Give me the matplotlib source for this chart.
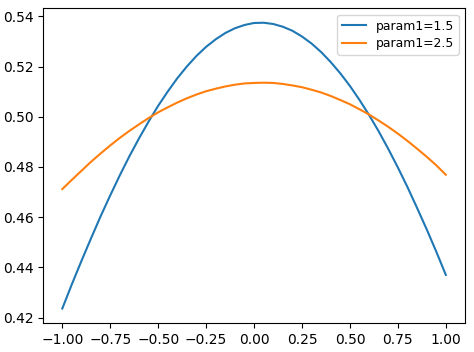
import matplotlib
matplotlib.use("Agg")
import matplotlib.pyplot as plt

# values
x = [-1.0, -0.95, -0.9, -0.85, -0.8, -0.75, -0.7, -0.65, -0.6, -0.55, -0.5,
     -0.45, -0.4, -0.35, -0.3, -0.25, -0.2, -0.15, -0.1, -0.05, 0.0,
     0.05, 0.1, 0.15, 0.2, 0.25, 0.3, 0.35, 0.4, 0.45, 0.5,
     0.55, 0.6, 0.65, 0.7, 0.75, 0.8, 0.85, 0.9, 0.95, 1.0]
y_p15 = [0.4236, 0.4333, 0.4426, 0.4516, 0.4604, 0.4687, 0.4767, 0.4843,
         0.4914, 0.4981, 0.5044, 0.5101, 0.5154, 0.5201, 0.5243, 0.5279,
         0.5309, 0.5334, 0.5353, 0.5366, 0.5374, 0.5375, 0.5370, 0.5359,
         0.5343, 0.5320, 0.5292, 0.5258, 0.5218, 0.5173, 0.5123, 0.5067,
         0.5007, 0.4942, 0.4872, 0.4798, 0.4720, 0.4637, 0.4552, 0.4463,
         0.4370]
y_p25 = [0.4712, 0.4749, 0.4785, 0.4821, 0.4854, 0.4886, 0.4916, 0.4944,
         0.4970, 0.4995, 0.5018, 0.5038, 0.5057, 0.5074, 0.5089, 0.5102,
         0.5112, 0.5121, 0.5128, 0.5133, 0.5135, 0.5136, 0.5135, 0.5131,
         0.5125, 0.5118, 0.5108, 0.5097, 0.5083, 0.5067, 0.5050, 0.5030,
         0.5009, 0.4985, 0.4960, 0.4933, 0.4904, 0.4873, 0.4841, 0.4807,
         0.4769]
labels = ["param1=1.5", "param1=2.5"]

fig, ax = plt.subplots(figsize=(4.74, 3.52), dpi=100)
fig.subplots_adjust(left=0.091, right=0.981, top=0.976, bottom=0.083)
ax.plot(x, y_p15, label=labels[0])
ax.plot(x, y_p25, label=labels[1])
ax.legend(loc="upper right", fontsize=8.9, labelspacing=0.35, handlelength=1.9)

plt.savefig("out.png")
